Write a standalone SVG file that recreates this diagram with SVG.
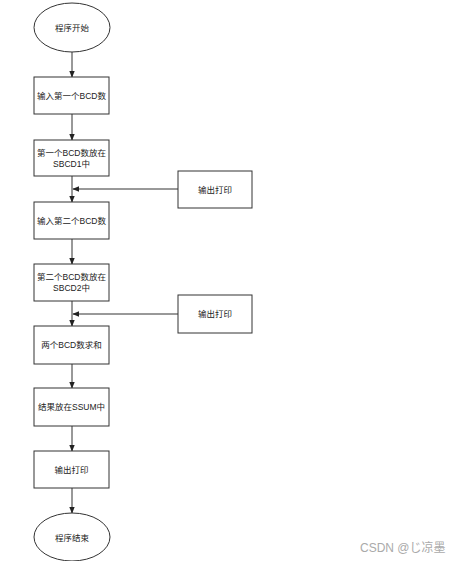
<svg xmlns="http://www.w3.org/2000/svg" width="474" height="561" viewBox="0 0 474 561">
<style>
.n{fill:#fff;stroke:#333;stroke-width:1}
.t{font-family:"Liberation Sans","Noto Sans CJK SC",sans-serif;font-size:8.5px;fill:#222;text-anchor:middle;dominant-baseline:central}
.c{fill:none;stroke:#333;stroke-width:1}
.w{font-family:"Liberation Sans","Noto Sans CJK SC",sans-serif;font-size:12px;fill:#aaa}
</style>
<defs>
<marker id="a" viewBox="0 0 10 10" refX="9" refY="5" markerWidth="7" markerHeight="7" orient="auto" markerUnits="userSpaceOnUse">
<path d="M0,1 L10,5 L0,9 Z" fill="#222"/>
</marker>
</defs>
<rect width="474" height="561" fill="#fff"/>
<g id="connectors">
<line class="c" x1="72" y1="52" x2="72" y2="77" marker-end="url(#a)"/>
<line class="c" x1="72" y1="114" x2="72" y2="140" marker-end="url(#a)"/>
<line class="c" x1="72" y1="176" x2="72" y2="202" marker-end="url(#a)"/>
<line class="c" x1="178" y1="189" x2="73" y2="189" marker-end="url(#a)"/>
<line class="c" x1="72" y1="239" x2="72" y2="264" marker-end="url(#a)"/>
<line class="c" x1="72" y1="301" x2="72" y2="326" marker-end="url(#a)"/>
<line class="c" x1="178" y1="314" x2="73" y2="314" marker-end="url(#a)"/>
<line class="c" x1="72" y1="364" x2="72" y2="388" marker-end="url(#a)"/>
<line class="c" x1="72" y1="426" x2="72" y2="451" marker-end="url(#a)"/>
<line class="c" x1="72" y1="488" x2="72" y2="513" marker-end="url(#a)"/>
</g>
<g id="start"><ellipse class="n" cx="72" cy="27.5" rx="38" ry="24.5"/><text class="t" x="72" y="28">程序开始</text></g>
<g id="in1"><rect class="n" x="34" y="77" width="75" height="37"/><text class="t" x="71.5" y="96">输入第一个BCD数</text></g>
<g id="put1"><rect class="n" x="34" y="140" width="75" height="36"/><text class="t" x="71.5" y="153">第一个BCD数放在</text><text class="t" x="71.5" y="164">SBCD1中</text></g>
<g id="print1"><rect class="n" x="178" y="171" width="74" height="37"/><text class="t" x="215" y="190">输出打印</text></g>
<g id="in2"><rect class="n" x="34" y="202" width="75" height="37"/><text class="t" x="71.5" y="221">输入第二个BCD数</text></g>
<g id="put2"><rect class="n" x="34" y="264" width="75" height="37"/><text class="t" x="71.5" y="277">第二个BCD数放在</text><text class="t" x="71.5" y="288">SBCD2中</text></g>
<g id="print2"><rect class="n" x="178" y="295" width="74" height="38"/><text class="t" x="215" y="314">输出打印</text></g>
<g id="sum"><rect class="n" x="34" y="326" width="75" height="38"/><text class="t" x="71.5" y="345">两个BCD数求和</text></g>
<g id="store"><rect class="n" x="34" y="388" width="75" height="38"/><text class="t" x="71.5" y="407">结果放在SSUM中</text></g>
<g id="print3"><rect class="n" x="34" y="451" width="75" height="37"/><text class="t" x="71.5" y="470">输出打印</text></g>
<g id="end"><ellipse class="n" cx="72" cy="537" rx="38" ry="24"/><text class="t" x="72" y="538">程序结束</text></g>
<text class="w" x="360" y="552">CSDN @じ凉墨</text>
</svg>
